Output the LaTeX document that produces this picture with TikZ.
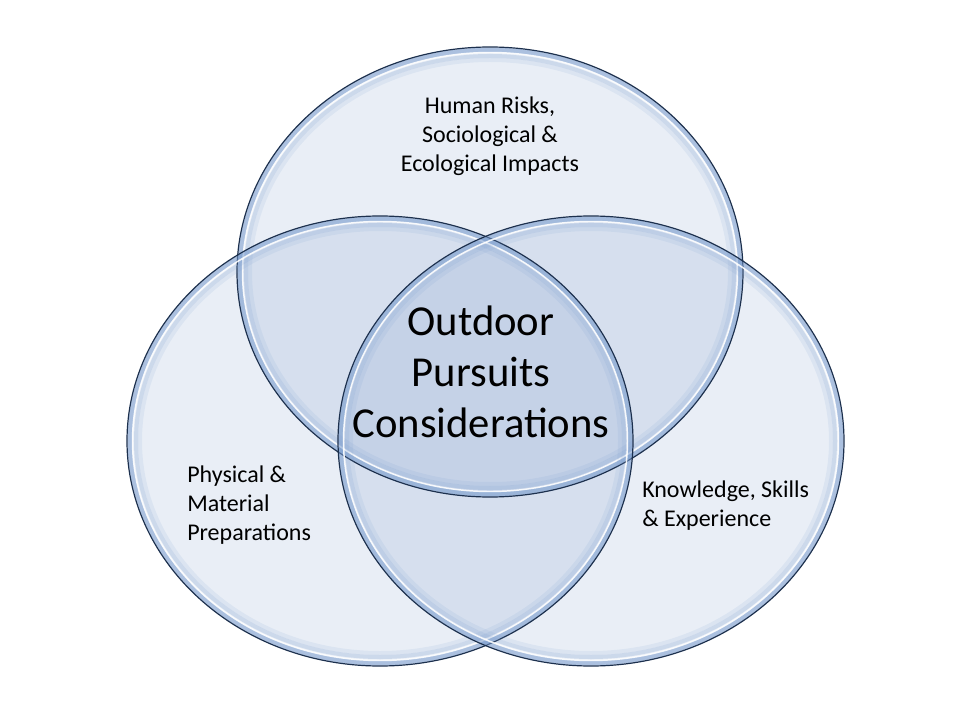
\documentclass[tikz,border=0pt]{standalone}
\usepackage{fontspec}
\setmainfont{Carlito}
\usetikzlibrary{shapes}
\definecolor{vennfill}{RGB}{98,134,191}
\definecolor{vennedge}{RGB}{28,48,78}
\definecolor{vennring}{RGB}{120,155,205}
\tikzstyle{bubble} = [fill=vennfill, fill opacity=0.14]
\tikzstyle{rim} = [draw=vennring, line width=3.6pt, draw opacity=0.55]
\tikzstyle{glint} = [draw=white, line width=1.1pt, draw opacity=0.9]
\tikzstyle{glow} = [draw=vennring, line width=3pt]
\tikzstyle{edge} = [draw=vennedge, line width=0.9pt]
\tikzstyle{smalltext} = [inner sep=0pt, font=\fontsize{18}{21.75}\selectfont]
\tikzstyle{bigtext} = [inner sep=0pt, align=center, font=\fontsize{32}{38.4}\selectfont]

\begin{document}
\begin{tikzpicture}[x=0.75pt, y=-0.75pt]
	\useasboundingbox (0,0) rectangle (960,720);

	\coordinate (risks) at (490,272);
	\coordinate (prep) at (380,441);
	\coordinate (skills) at (591,441);

	% filled bubbles
	\foreach \c in {risks,prep,skills}
		\path [bubble] (\c) ellipse [x radius=253, y radius=225];

	% rims
	\foreach \c in {risks,prep,skills} {
		\path [glow, draw opacity=0.12] (\c) ellipse [x radius=240, y radius=212];
		\path [glow, draw opacity=0.25] (\c) ellipse [x radius=244, y radius=216];
		\path [rim] (\c) ellipse [x radius=250, y radius=222];
		\path [glint] (\c) ellipse [x radius=247.5, y radius=219.5];
		\path [edge] (\c) ellipse [x radius=253, y radius=225];
	}

	\node [smalltext, align=center] (risktext) at (490,136)
		{Human Risks,\\Sociological \&\\Ecological Impacts};
	\node [smalltext, align=left, anchor=west] (preptext) at (187,505)
		{Physical \&\\Material\\Preparations};
	\node [smalltext, align=left, anchor=west] (skilltext) at (642,506)
		{Knowledge, Skills\\\& Experience};
	\node [bigtext] (core) at (481,372)
		{Outdoor\\Pursuits\\Considerations};
\end{tikzpicture}
\end{document}
